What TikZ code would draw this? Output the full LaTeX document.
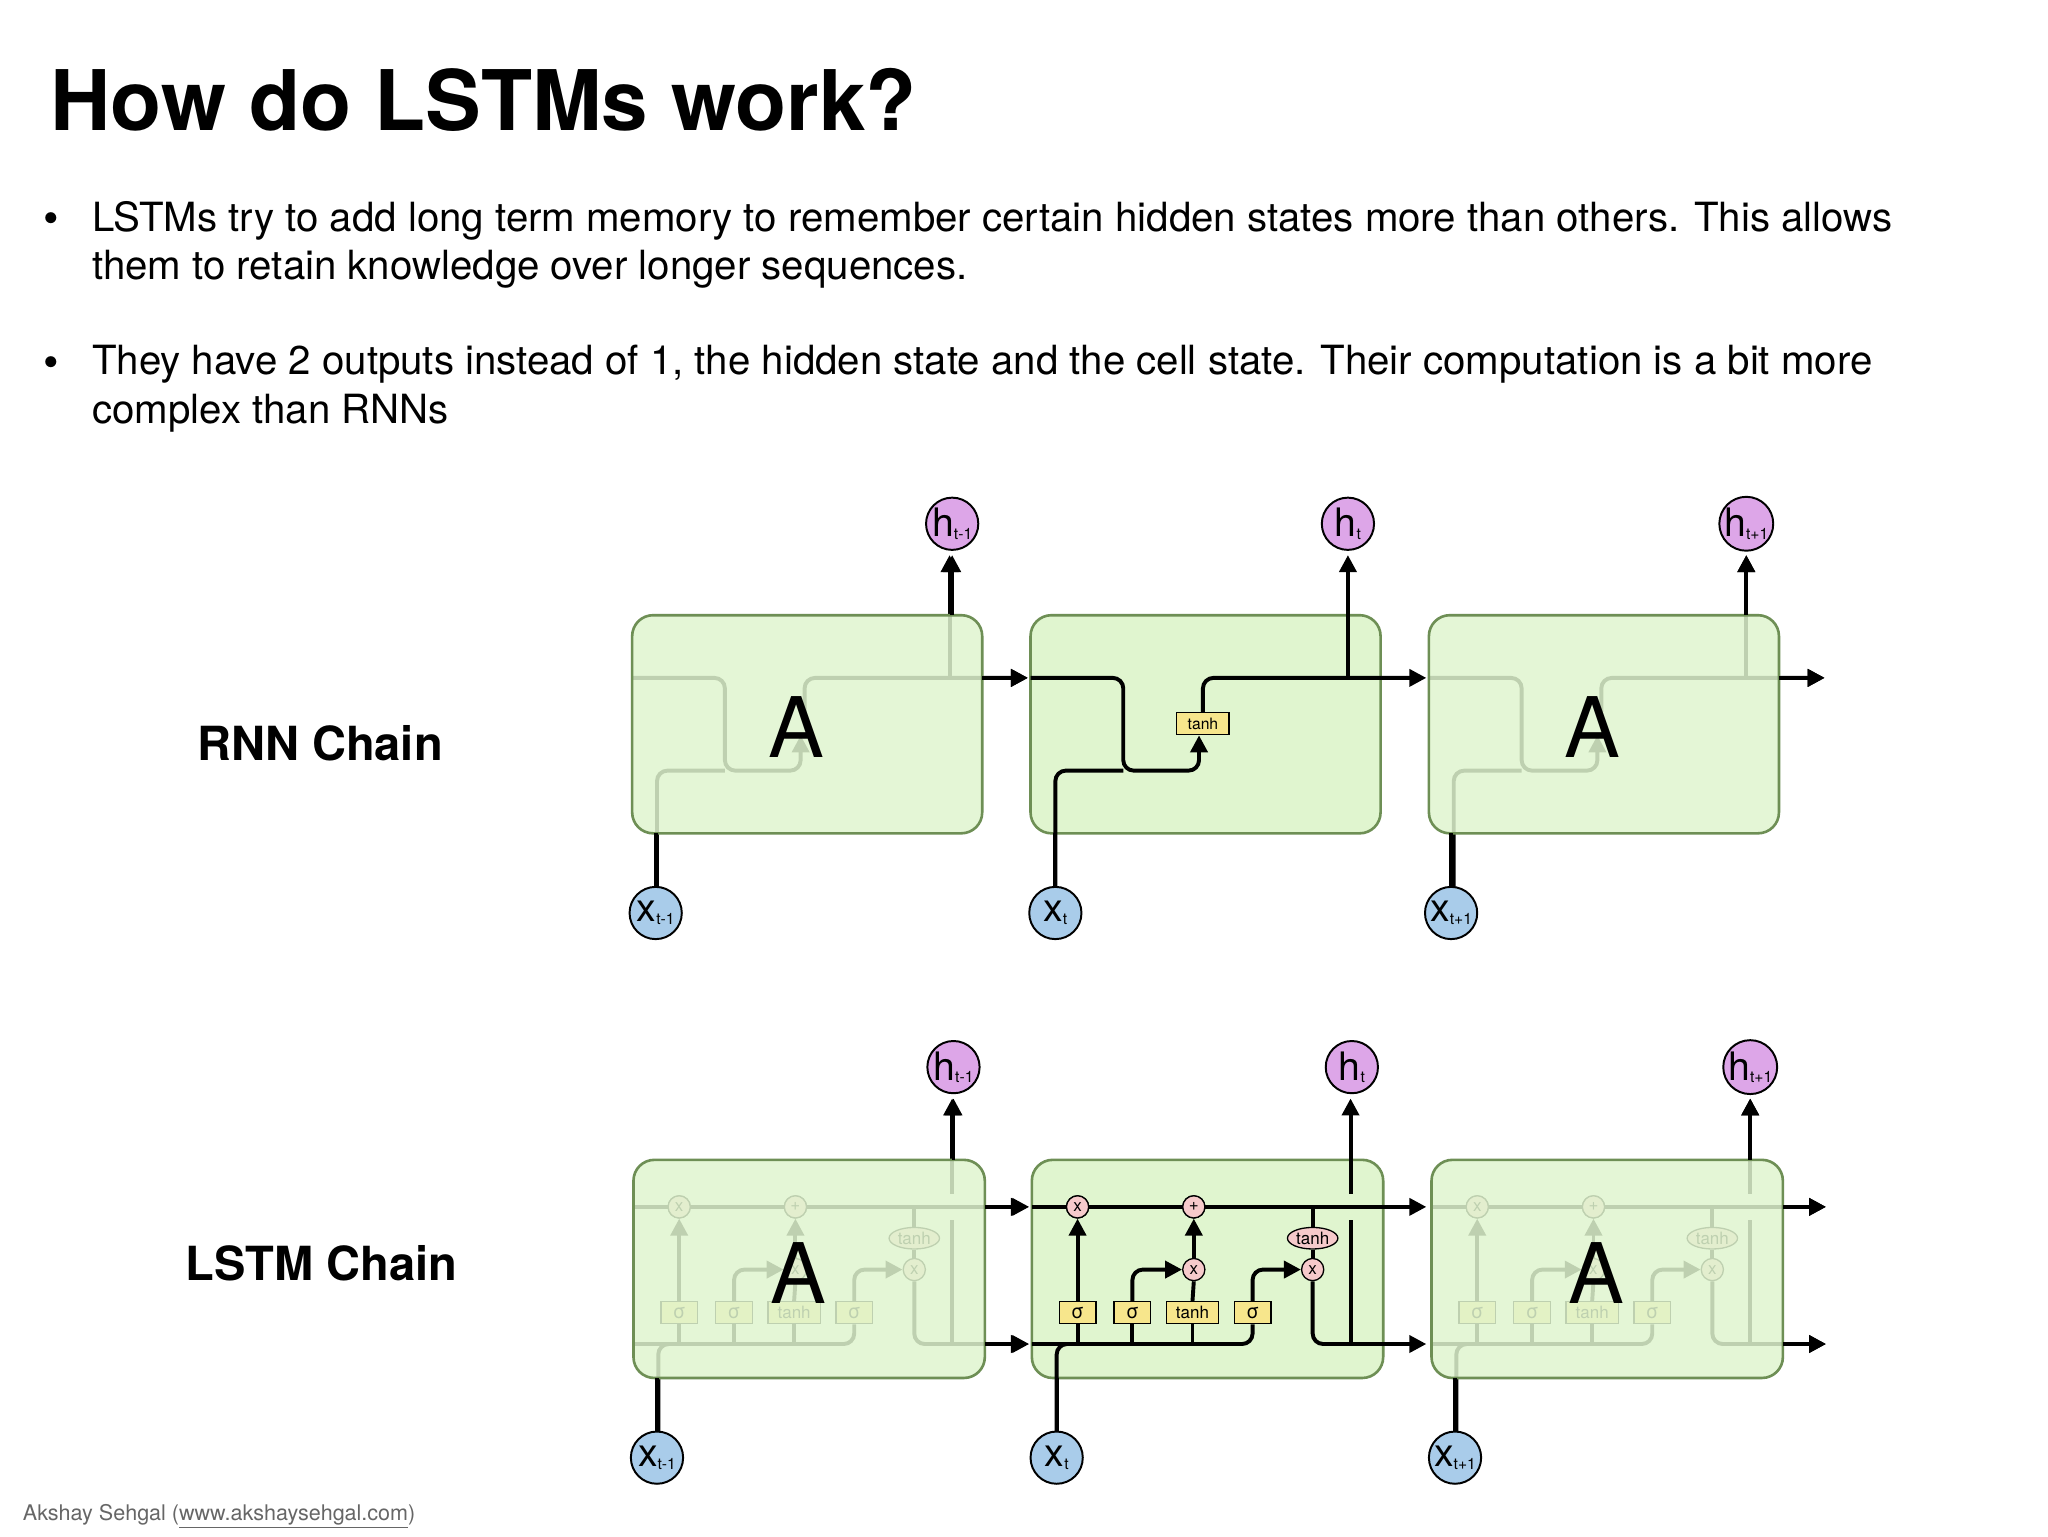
\documentclass[tikz,border=0pt]{standalone}
\usepackage{fontspec}
\setmainfont{TeX Gyre Heros}
\usetikzlibrary{arrows.meta,shapes.geometric}
\definecolor{cellfill}{HTML}{E0F5CF}
\definecolor{celldraw}{HTML}{6E8F55}
\definecolor{hfill}{HTML}{DDA6E8}
\definecolor{xfill}{HTML}{A9CCEA}
\definecolor{gatefill}{HTML}{F7E68C}
\definecolor{opfill}{HTML}{F6CACB}
\tikzset{
  cellbox/.style={draw=celldraw,line width=2pt,fill=cellfill,rounded corners=16pt},
  ln/.style={line width=3pt,rounded corners=8pt},
  arr/.style={ln,-{Triangle[length=13pt,width=13pt]}},
  hcirc/.style={circle,draw=black,line width=1.5pt,fill=hfill,minimum size=40pt,inner sep=0pt},
  xcirc/.style={circle,draw=black,line width=1.5pt,fill=xfill,minimum size=40pt,inner sep=0pt},
  gate/.style={draw=black,line width=1pt,fill=gatefill,minimum height=17pt,inner sep=1.5pt,font=\fontsize{15}{15}\selectfont},
  op/.style={circle,draw=black,line width=1pt,fill=opfill,minimum size=17pt,inner sep=0pt,font=\fontsize{13}{13}\selectfont},
  bodytext/.style={anchor=base west,font=\fontsize{30.8}{33}\selectfont},
  bulletdot/.style={anchor=base west,font=\fontsize{34}{34}\selectfont},
  chainlabel/.style={font=\fontsize{36}{36}\selectfont\bfseries},
  bigA/.style={font=\fontsize{64}{64}\selectfont}
}
\newcommand\rnnlines[1]{%
  \draw[arr] (789,519) -- (860,519) -- (860,590) -- (918,590) -- (918,563);
  \node[gate,minimum width=40pt,font=\fontsize{12}{12}\selectfont,#1] (tb) at (921,554) {tanh};
  \draw[arr] (tb.north) -- (921,519) -- (1092,519);
  \draw[ln] (808,680) -- (808,590) -- (860,590);
  \draw[arr] (1032,519) -- (1032,425);
}
\newcommand\lstmlines{%
  \draw[arr] (790,924) -- (1092,924);
  \node[op] (fx) at (825,924) {x};
  \node[op] (pl) at (914,924) {+};
  \node[gate,minimum width=28pt] (s1) at (825,1005) {σ};
  \node[gate,minimum width=28pt] (s2) at (867,1005) {σ};
  \node[gate,minimum width=40pt,font=\fontsize{13}{13}\selectfont] (tg) at (913,1005) {tanh};
  \node[gate,minimum width=28pt] (s3) at (959,1005) {σ};
  \node[op] (ix) at (914,972) {x};
  \node[op] (ox) at (1005,972) {x};
  \node[ellipse,draw=black,line width=1pt,fill=opfill,inner sep=1pt,font=\fontsize{13}{13}\selectfont] (th) at (1005,948) {tanh};
  \draw[ln] (790,1029) -| (959,1014);
  \draw[ln] (809,1096) |- (835,1029);
  \draw[ln] (825,1029) -- (s1.south); \draw[ln] (867,1029) -- (s2.south); \draw[ln] (913,1029) -- (tg.south);
  \draw[arr] (s1.north) -- (fx.south);
  \draw[arr] (s2.north) |- (ix.west);
  \draw[ln] (tg.north) -- (ix.south);
  \draw[arr] (ix.north) -- (pl.south);
  \draw[arr] (s3.north) |- (ox.west);
  \draw[ln] (1005,924) -- (th.north); \draw[ln] (th.south) -- (ox.north);
  \draw[arr] (ox.south) |- (1092,1029);
  \draw[ln] (1034,1029) -- (1034,934);
  \draw[arr] (1034,914) -- (1034,841);
  \node[op] at (825,924) {x}; \node[op] at (914,924) {+};
}
\begin{document}
\begin{tikzpicture}[x=1pt,y=-1pt]
\useasboundingbox[fill=white] (0,0) rectangle (1568,1176);
\node[anchor=base west,font=\fontsize{64}{64}\selectfont\bfseries] (title) at (35,100) {How do LSTMs work?};
\node[bulletdot] (b1) at (30,179) {•};
\node[bodytext] (t1a) at (67,177) {LSTMs try to add long term memory to remember certain hidden states more than others. This allows};
\node[bodytext] (t1b) at (67,214) {them to retain knowledge over longer sequences.};
\node[bulletdot] (b2) at (30,289) {•};
\node[bodytext] (t2a) at (67,287) {They have 2 outputs instead of 1, the hidden state and the cell state. Their computation is a bit more};
\node[bodytext] (t2b) at (67,324) {complex than RNNs};
\node[chainlabel] (rl) at (245,569) {RNN Chain};
\node[chainlabel] (ll) at (246,967) {LSTM Chain};
\node[anchor=base west,text=black!60,font=\fontsize{16.5}{16.5}\selectfont] (ft) at (14,1164) {Akshay Sehgal (\underline{www.akshaysehgal.com})};
% RNN chain
\begin{scope}[xshift=-305pt,name prefix=r1-]\rnnlines{draw=none,fill=none,text opacity=0}\end{scope}
\begin{scope}[xshift=305pt,name prefix=r3-]\rnnlines{draw=none,fill=none,text opacity=0}\end{scope}
\draw[cellbox,fill opacity=0.85] (484,471) rectangle (752,638);
\draw[cellbox,fill opacity=0.85] (1094,471) rectangle (1362,638);
\node[bigA] (a1) at (610,557) {A};
\node[bigA] (a3) at (1219,557) {A};
\draw[cellbox] (789,471) rectangle (1057,638);
\rnnlines{}
% LSTM chain
\begin{scope}[xshift=-305pt,name prefix=l1-]\lstmlines\end{scope}
\begin{scope}[xshift=306pt,name prefix=l3-]\lstmlines\end{scope}
\draw[cellbox,fill opacity=0.85] (485,888) rectangle (754,1055);
\draw[cellbox,fill opacity=0.85] (1096,888) rectangle (1365,1055);
\node[bigA] (a4) at (611,975) {A};
\node[bigA] (a6) at (1222,975) {A};
\draw[cellbox] (790,888) rectangle (1059,1055);
\lstmlines
% circles
\foreach \cx/\s/\nm in {729/t-1/a,1032/t/b,1337/t+1/c}{
  \node[hcirc] (rh\nm) at (\cx,401) {\fontsize{30}{30}\selectfont h\raisebox{-2pt}{\fontsize{12}{12}\selectfont\s}};}
\foreach \cx/\s/\nm in {502/t-1/a,808/t/b,1111/t+1/c}{
  \draw[ln] (\cx,638) -- (\cx,679);
  \node[xcirc] (rx\nm) at (\cx,699) {\fontsize{30}{30}\selectfont x\raisebox{-2pt}{\fontsize{12}{12}\selectfont\s}};}
\foreach \cx/\s/\nm in {730/t-1/a,1035/t/b,1340/t+1/c}{
  \node[hcirc] (lh\nm) at (\cx,817) {\fontsize{30}{30}\selectfont h\raisebox{-2pt}{\fontsize{12}{12}\selectfont\s}};}
\foreach \cx/\s/\nm in {503/t-1/a,809/t/b,1114/t+1/c}{
  \draw[ln] (\cx,1055) -- (\cx,1096);
  \node[xcirc] (lx\nm) at (\cx,1116) {\fontsize{30}{30}\selectfont x\raisebox{-2pt}{\fontsize{12}{12}\selectfont\s}};}
\draw[arr] (729,471) -- (729,425);
\draw[arr] (1337,471) -- (1337,425);
\draw[arr] (730,888) -- (730,841);
\draw[arr] (1340,888) -- (1340,841);
\draw[arr] (752,519) -- (787,519);
\draw[arr] (1362,519) -- (1397,519);
\draw[arr] (754,924) -- (788,924);
\draw[arr] (754,1029) -- (788,1029);
\draw[arr] (1365,924) -- (1398,924);
\draw[arr] (1365,1029) -- (1398,1029);
\end{tikzpicture}
\end{document}
